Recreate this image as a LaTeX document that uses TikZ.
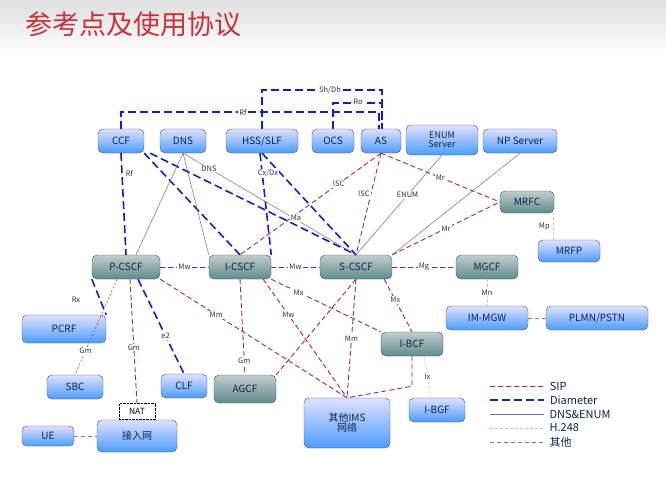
\documentclass[tikz,border=0pt]{standalone}
\usepackage{fontspec}
\setmainfont{Noto Sans CJK SC}
\usetikzlibrary{positioning, arrows}

\definecolor{navy}{HTML}{10244A}
\definecolor{sipred}{HTML}{9A2C48}
\definecolor{diablue}{HTML}{1020C8}
\definecolor{dnsgray}{HTML}{7A6A7A}
\definecolor{hgreen}{HTML}{C8CC90}
\tikzset{
  bnode/.style={draw=navy!80, rounded corners=5pt, top color=blue!12, bottom color=blue!55!cyan!70,
    minimum height=24pt, inner sep=1pt, align=center, font=\fontsize{10}{10}\selectfont, text=navy},
  gnode/.style={bnode, top color=teal!20!gray!40, bottom color=teal!40!gray!90},
  lbl/.style={font=\fontsize{7.5}{8}\selectfont, fill=white, inner sep=1pt, text=black!80},
  sip/.style={sipred, dashed, dash pattern=on 5pt off 3pt, line width=0.9pt},
  dia/.style={diablue, dash pattern=on 8pt off 4pt, line width=1.6pt},
  dnsl/.style={dnsgray, line width=0.5pt},
  hl/.style={hgreen, dash pattern=on 3pt off 2pt, line width=0.6pt},
  oth/.style={gray, dash pattern=on 4pt off 3pt, line width=0.6pt},
}

\begin{document}
\begin{tikzpicture}[x=1pt, y=-1pt]
  \useasboundingbox (0,0) rectangle (666,485);
  \shade[top color=gray!25, bottom color=white] (0,0) rectangle (666,55);
  \node[anchor=west, text={rgb,255:red,200;green,50;blue,60}, font=\fontsize{27}{27}\selectfont] (title) at (22,24) {参考点及使用协议};

  % top row
  \node[bnode, minimum width=46pt] (CCF) at (121,141) {CCF};
  \node[bnode, minimum width=46pt] (DNS) at (183,141) {DNS};
  \node[bnode, minimum width=72pt] (HSS) at (262,141) {HSS/SLF};
  \node[bnode, minimum width=42pt] (OCS) at (333,141) {OCS};
  \node[bnode, minimum width=40pt] (AS) at (381,141) {AS};
  \node[bnode, minimum width=72pt, minimum height=30pt, font=\fontsize{9}{9.5}\selectfont] (ENUM) at (442,140) {ENUM\\Server};
  \node[bnode, minimum width=74pt] (NP) at (520,141) {NP Server};
  \node[gnode, minimum width=54pt, minimum height=22pt] (MRFC) at (527,202) {MRFC};
  \node[bnode, minimum width=62pt, minimum height=22pt] (MRFP) at (569,251) {MRFP};

  % cscf row
  \node[gnode, minimum width=68pt] (PCSCF) at (126,267) {P-CSCF};
  \node[gnode, minimum width=62pt] (ICSCF) at (240,267) {I-CSCF};
  \node[gnode, minimum width=72pt] (SCSCF) at (356,267) {S-CSCF};
  \node[gnode, minimum width=62pt] (MGCF) at (487,267) {MGCF};
  \node[bnode, minimum width=82pt] (IMMGW) at (487,318) {IM-MGW};
  \node[bnode, minimum width=102pt] (PLMN) at (597,318) {PLMN/PSTN};

  % bottom part
  \node[bnode, minimum width=84pt, minimum height=28pt] (PCRF) at (64,329) {PCRF};
  \node[gnode, minimum width=62pt] (IBCF) at (412,344) {I-BCF};
  \node[bnode, minimum width=56pt] (SBC) at (75,387) {SBC};
  \node[bnode, minimum width=46pt] (CLF) at (184,386) {CLF};
  \node[gnode, minimum width=62pt, minimum height=28pt] (AGCF) at (245,389) {AGCF};
  \node[bnode, minimum width=56pt] (IBGF) at (437,410) {I-BGF};
  \node[bnode, minimum width=86pt, minimum height=50pt] (IMS) at (347,423) {其他IMS\\网络};
  \node[bnode, minimum width=80pt, minimum height=32pt] (AN) at (137,436) {接入网};
  \node[bnode, minimum width=52pt, minimum height=20pt] (UE) at (48,436) {UE};
  \node[draw, densely dotted, minimum width=36pt, minimum height=16pt, inner sep=1pt,
    font=\fontsize{8.5}{8.5}\selectfont, anchor=south] (NAT) at (AN.north) {NAT};

  % diameter
  \draw[dia] (CCF.north) -- ++(0,-17) -| ([xshift=-2pt]AS.north);
  \draw[dia] (HSS.north) -- ++(0,-39) -| ([xshift=1pt]AS.north);
  \draw[dia] (OCS.north) -- ++(0,-26) -| ([xshift=1pt]AS.north);
  \node[lbl] (lrf) at (243,112) {Rf};
  \node[lbl] (lsh) at (330,90) {Sh/Dh};
  \node[lbl] (lro) at (358,102) {Ro};
  \draw[dia] (CCF.south) -- (PCSCF.north) node[lbl, pos=0.2, right=2pt] {Rf};
  \draw[dia] (CCF.south east) -- (ICSCF.north);
  \draw[dia] ([xshift=6pt]CCF.south east) -- (SCSCF.north);
  \draw[dia] ([xshift=-2pt]HSS.south) -- (ICSCF.north east);
  \draw[dia] (HSS.south) -- (SCSCF.north) node[lbl, pos=0.2, left=1pt] {Cx/Dx};
  \draw[dia] (PCSCF.south west) -- (PCRF.north east);
  \node[lbl] (lrx) at (76,300) {Rx};
  \draw[dia] ([xshift=12pt]PCSCF.south) -- (CLF.north) node[lbl, pos=0.6] {e2};

  % dns & enum
  \draw[dnsl] (DNS.south) -- ([xshift=10pt]PCSCF.north);
  \draw[dnsl] (DNS.south) -- (ICSCF.north west);
  \draw[dnsl] (DNS.south) -- (SCSCF.north) node[lbl, pos=0.15] {DNS};
  \draw[dnsl] (ENUM.south) -- (SCSCF.north) node[lbl, pos=0.4] {ENUM};
  \draw[dnsl] (NP.south) -- (SCSCF.north east);

  % sip
  \draw[sip] (PCSCF) -- (ICSCF) node[lbl, midway] {Mw};
  \draw[sip] (ICSCF) -- (SCSCF) node[lbl, midway] {Mw};
  \draw[sip] (SCSCF) -- (MGCF) node[lbl, midway] {Mg};
  \draw[sip] (AS.south) -- (ICSCF.north) node[lbl, pos=0.3] {ISC};
  \draw[sip] (AS.south) -- (SCSCF.north) node[lbl, pos=0.4, left=0pt] {ISC};
  \node[lbl] (lma) at (296,218) {Ma};
  \draw[sip] (AS.south) -- (MRFC.west) node[lbl, pos=0.5] {Mr};
  \draw[sip] (SCSCF.north east) -- (MRFC.west) node[lbl, pos=0.5] {Mr};
  \draw[sip] (PCSCF.south east) -- (IMS.north) node[lbl, pos=0.3] {Mm};
  \draw[sip] (ICSCF.south) -- (AGCF.north) node[lbl, pos=0.85] {Gm};
  \draw[sip] ([xshift=-8pt]ICSCF.south east) -- (IMS.north) node[lbl, pos=0.3] {Mw};
  \draw[sip] (ICSCF.south east) -- (IBCF.north west) node[lbl, pos=0.25] {Mx};
  \draw[sip] (SCSCF.south) -- (AGCF.north east);
  \draw[sip] (SCSCF.south) -- (IMS.north) node[lbl, pos=0.5] {Mm};
  \draw[sip] ([xshift=-8pt]SCSCF.south east) -- (IBCF.north) node[lbl, pos=0.4] {Mx};
  \draw[sip] (IBCF.south) -- ++(0,30) -- (IMS.north);
  \draw[sip] ([xshift=4pt]PCSCF.south) -- (NAT.north) node[lbl, pos=0.55] {Gm};
  \draw[sip, line width=0.5pt, dash pattern=on 2pt off 2pt] ([xshift=-9pt]PCSCF.south) -- (SBC.north) node[lbl, pos=0.75] {Gm};

  % h.248 and others
  \draw[hl] ([xshift=-16pt]MRFP.north) -- ([xshift=-16pt]MRFP.north |- MRFC.south) node[lbl, pos=0.5, left=2pt] {Mp};
  \draw[hl] (MGCF) -- (IMMGW) node[lbl, midway] {Mn};
  \draw[hl] ([xshift=12pt]IBCF.south) -- ([xshift=-6pt]IBGF.north) node[lbl, midway] {Ix};
  \draw[oth] (IMMGW) -- (PLMN);
  \draw[oth] (UE) -- (AN);

  % legend
  \foreach \sty/\txt [count=\i] in {sip/SIP, dia/Diameter, dnsl/DNS\&ENUM, hl/H.248, oth/其他}{
    \coordinate (lg\i) at (490,372+14*\i);
    \draw[\sty] (lg\i) -- ++(54,0) node[right=2pt, font=\fontsize{11}{11}\selectfont, text=navy] {\txt};
  }
\end{tikzpicture}
\end{document}
